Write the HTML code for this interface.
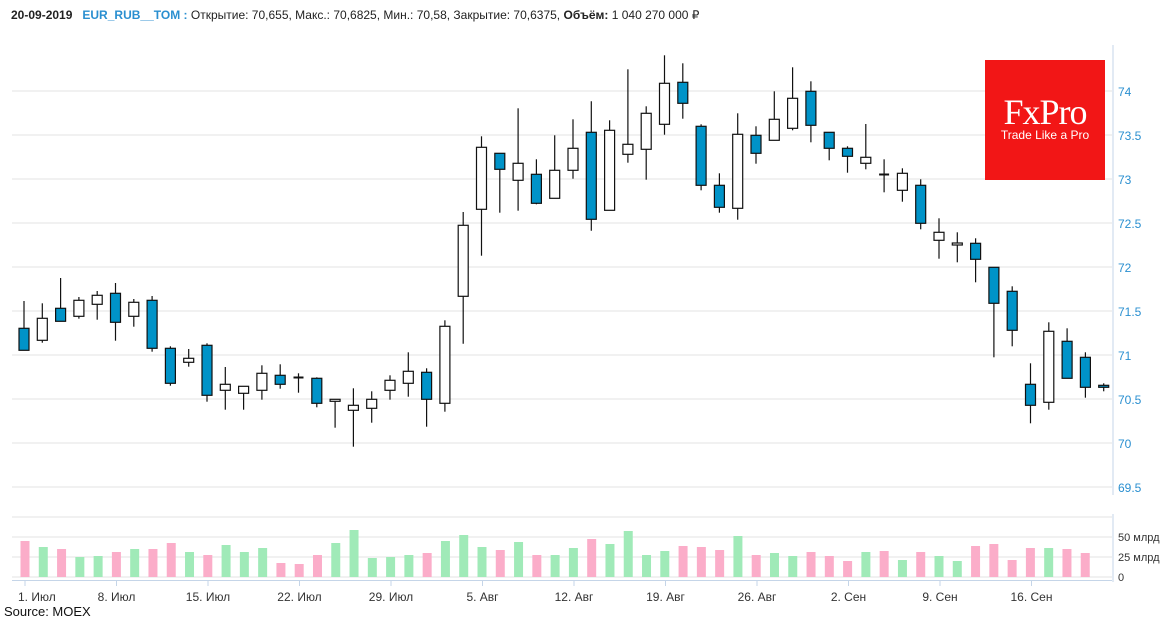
<!DOCTYPE html>
<html><head><meta charset="utf-8"><style>
body{margin:0;background:#fff;width:1166px;height:620px;overflow:hidden;font-family:"Liberation Sans",sans-serif}
svg{position:absolute;left:0;top:0}
</style></head><body>
<svg id="s" width="1166" height="620" xmlns="http://www.w3.org/2000/svg">
<text x="11" y="19" font-size="12" font-family="Liberation Sans, sans-serif"><tspan font-weight="bold" fill="#222">20-09-2019</tspan><tspan dx="10" font-weight="bold" fill="#2a8fd0">EUR_RUB__TOM :</tspan><tspan fill="#222"> Открытие: 70,655, Макс.: 70,6825, Мин.: 70,58, Закрытие: 70,6375, </tspan><tspan font-weight="bold" fill="#222">Объём:</tspan><tspan fill="#222"> 1 040 270 000 ₽</tspan></text>
<text x="4" y="616" font-size="13" fill="#111" font-family="Liberation Sans, sans-serif">Source: MOEX</text>
<g id="g"></g>
<rect x="985" y="60" width="120" height="120" fill="#f21616"/>
<text x="1045" y="124" text-anchor="middle" font-family="Liberation Serif, serif" font-size="36" fill="#fff" letter-spacing="-1">FxPro</text>
<text x="1045" y="139" text-anchor="middle" font-family="Liberation Sans, sans-serif" font-size="12" fill="#fff">Trade Like a Pro</text>
</svg>
<script>
var g=document.getElementById('g'),h='';
for(var k=0;k<=9;k++){var y=91+k*44;h+='<line x1="12" x2="1112" y1="'+y+'" y2="'+y+'" stroke="#e3e3e3"/>';
var v=(74-k*0.5);h+='<text x="1118" y="'+(y+5)+'" font-size="12" fill="#2a8fd0">'+(v%1?v:v.toFixed(0))+'</text>';}
h+='<line x1="1113" x2="1113" y1="45" y2="495" stroke="#c5d5e8"/>';
[517,537,557,577].forEach(function(y){h+='<line x1="12" x2="1112" y1="'+y+'" y2="'+y+'" stroke="#e3e3e3"/>';});
h+='<line x1="1113" x2="1113" y1="514" y2="582" stroke="#c5d5e8"/>';
h+='<line x1="12" x2="1112" y1="580.5" y2="580.5" stroke="#c5d5e8"/>';
h+='<text x="1118" y="541" font-size="11" fill="#333">50 млрд</text><text x="1118" y="561" font-size="11" fill="#333">25 млрд</text><text x="1118" y="581" font-size="11" fill="#333">0</text>';
var C=[[328.3,350.3,301,350.3,1],[318.3,340.3,303.3,342.7,0],[308.3,321.3,278,321.3,1],[300.3,316.3,297,318.7,0],[295.3,304.3,291,319.7,0],[293.3,322.3,283,340.7,1],[302.3,316.3,299,326.7,0],[300.3,348.3,296,351.7,1],[348.3,383.3,346.3,385.7,1],[358.3,362.3,349,366.7,0],[345.3,395.3,343.3,401.7,1],[384.3,390.3,367,409.7,0],[386.3,393.3,386.3,409.7,0],[373.3,390.3,365.3,399.7,0],[375.3,384.3,364.3,388.7,1],[377.5,378.5,373.3,392.7,2],[378.3,403.3,377.3,407.3,1],[399.3,401.3,399.3,427.7,0],[405.3,410.3,388.3,446.7,0],[399.3,408.3,391.3,422.7,0],[380.3,390.3,375.3,399.7,0],[371.3,383.3,352.3,396.7,0],[372.3,399.3,368.3,426.7,1],[326.3,403.3,320.3,411.7,0],[225.3,296.3,212,343.7,0],[147.3,209.3,136.3,255.7,0],[153.3,169.3,153.3,212.7,1],[163.3,180.3,108.3,210.7,0],[174.3,203.3,159.3,204.3,1],[170.3,198.3,135.3,198.3,0],[148.3,170.3,119.3,178.7,0],[132.3,219.3,101.3,230.7,1],[130.3,210.3,120.3,210.3,0],[144.3,154.3,69.3,162.7,0],[113.3,149.3,106.3,179.7,0],[83.3,124.3,55.3,134.7,0],[82.3,103.3,63.3,118.7,1],[126.3,185.3,124.3,190.3,1],[185.3,207.3,173.3,212.7,1],[134.3,208.3,113.3,219.7,0],[135.3,153.3,126.3,163.7,1],[119.3,140.3,91.3,140.3,0],[98.3,128.3,67.3,130.3,0],[91.3,125.3,81.3,142.3,1],[132.3,148.3,132.3,160.3,1],[148.3,156.3,146.3,172.7,1],[157.3,163.3,124,169.3,0],[174.5,175.5,159.3,192.3,2],[173.3,190.3,168.3,201.7,0],[185.3,223.3,179.3,229.3,1],[232.3,240.3,218.3,258.7,0],[243,245,232.3,262.3,0],[243.3,259.3,238.3,282.3,1],[267.3,303.3,267.3,357.3,1],[291.3,330.3,286.3,346.3,1],[384.3,405.3,363.3,423.3,1],[331.3,402.3,322.3,409.7,0],[341.3,378.3,328.3,378.3,1],[357.3,387.3,352.3,397.7,1],[385.3,387.3,383.3,391.3,1]];
C.forEach(function(c,i){var x=24+i*18.3;
h+='<line x1="'+x+'" x2="'+x+'" y1="'+c[2]+'" y2="'+c[3]+'" stroke="#111" stroke-width="1.2"/>';
if(c[4]==2){h+='<line x1="'+(x-5)+'" x2="'+(x+5)+'" y1="'+c[0]+'" y2="'+c[0]+'" stroke="#111" stroke-width="2"/>';}
else h+='<rect x="'+(x-5)+'" y="'+c[0]+'" width="10" height="'+Math.max(1,c[1]-c[0])+'" fill="'+(c[4]?'#0093c8':'#fff')+'" stroke="#111" stroke-width="1.2"/>';});
var V=[[36,1],[30,0],[28,1],[20,0],[21,0],[25,1],[28,0],[28,1],[34,1],[25,0],[22,1],[32,0],[25,0],[29,0],[14,1],[13,1],[22,1],[34,0],[47,0],[19,0],[20,0],[22,0],[24,1],[36,0],[42,0],[30,0],[27,1],[35,0],[22,1],[22,0],[29,0],[38,1],[33,0],[46,0],[22,0],[26,0],[31,1],[30,1],[27,1],[41,0],[22,1],[24,0],[21,0],[25,1],[21,1],[16,1],[25,0],[26,1],[17,0],[25,1],[21,0],[16,0],[31,1],[33,1],[17,1],[29,1],[29,0],[28,1],[24,1]];
V.forEach(function(v,i){var x=25+i*18.28;h+='<rect x="'+(x-4.5)+'" y="'+(577-v[0])+'" width="9" height="'+v[0]+'" fill="'+(v[1]?'#fbadc9':'#a0eab8')+'"/>';});
var D=['1. Июл','8. Июл','15. Июл','22. Июл','29. Июл','5. Авг','12. Авг','19. Авг','26. Авг','2. Сен','9. Сен','16. Сен'];
D.forEach(function(d,j){var x=25+j*5*18.3;h+='<line x1="'+x+'" x2="'+x+'" y1="581" y2="586" stroke="#c5d5e8"/>';
h+='<text x="'+(j==0?18:x)+'" y="601" font-size="12" fill="#333" text-anchor="'+(j==0?'start':'middle')+'">'+d+'</text>';});
g.innerHTML=h;
</script>
</body></html>
